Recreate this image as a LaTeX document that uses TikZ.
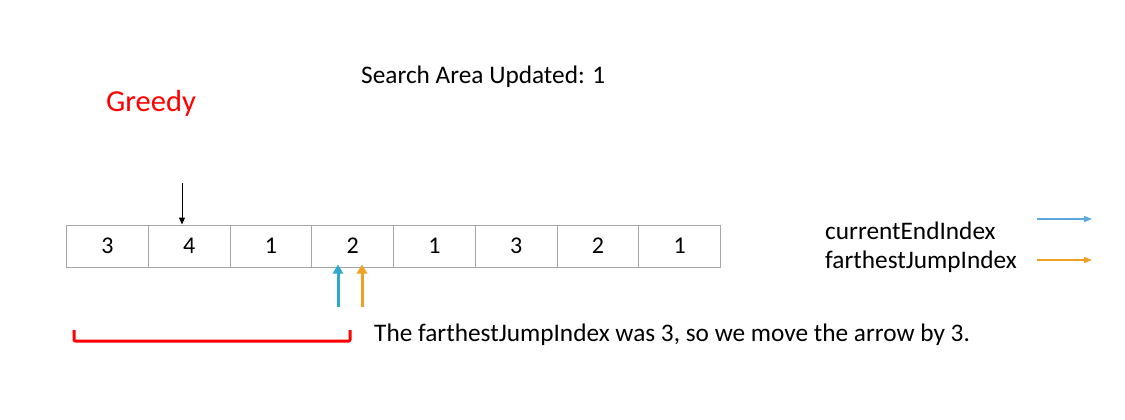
\documentclass[tikz,border=0pt]{standalone}
\usepackage{fontspec}
\setmainfont{Carlito}
\usetikzlibrary{arrows.meta}
\definecolor{cellgray}{HTML}{A6A6A6}
\definecolor{upblue}{HTML}{2EA8CC}
\definecolor{legblue}{HTML}{5BA8E0}
\definecolor{uporange}{HTML}{F0A020}
\tikzset{
  cell/.style={draw=cellgray, line width=1pt, minimum width=81.75pt, minimum height=42pt, inner sep=0pt, font=\fontsize{24}{28}\selectfont, anchor=west},
  txt/.style={inner sep=0pt, font=\fontsize{25.3}{30}\selectfont, anchor=west},
  uparrow/.style={line width=3pt, -{Triangle[length=9pt,width=10pt]}},
  legarrow/.style={line width=1.5pt, -{Triangle[length=8pt,width=6pt]}}
}
\begin{document}
\begin{tikzpicture}[x=1pt,y=-1pt]
\useasboundingbox (0,0) rectangle (1125,420);
\node[txt] (title) at (361,77) {Search Area Updated: 1};
\node[txt, text=red, font=\fontsize{30.5}{36}\selectfont] (greedy) at (106,103) {Greedy};
\foreach \v [count=\i from 0] in {3,4,1,2,1,3,2,1} {
  \node[cell] (c\i) at (66+\i*81.75,246) {\v};
}
\coordinate (blk) at (182,183);
\draw[line width=1pt, -{Triangle[length=7pt,width=6pt]}] (blk) -- (blk |- c1.north);
\coordinate (bstart) at (338,307);
\coordinate (ostart) at (362,307);
\draw[uparrow, upblue] (bstart) -- ([yshift=3pt]bstart |- c3.south);
\draw[uparrow, uporange] (ostart) -- ([yshift=3pt]ostart |- c3.south);
\coordinate (bl) at (74,330);
\coordinate (br) at (350,330);
\draw[red, line width=3pt, line join=round, rounded corners=1pt] (bl) -- ++(0,11) -| (br);
\node[txt] (expl) at (374,335) {The farthestJumpIndex was 3, so we move the arrow by 3.};
\node[txt] (lcur) at (825,231) {currentEndIndex};
\node[txt] (lfar) at (825,262) {farthestJumpIndex};
\coordinate (la1) at (1037,219);
\coordinate (lb1) at (1092,219);
\coordinate (la2) at (1037,260);
\coordinate (lb2) at (1092,260);
\draw[legarrow, legblue] (la1) -- (lb1);
\draw[legarrow, uporange] (la2) -- (lb2);
\end{tikzpicture}
\end{document}
